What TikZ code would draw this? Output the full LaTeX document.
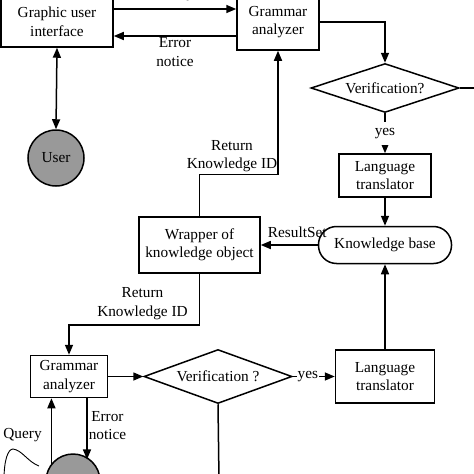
\documentclass[tikz,border=0pt]{standalone}
\usepackage{fontspec}
\setmainfont{Liberation Serif}
\usetikzlibrary{shapes.geometric, arrows.meta, positioning}

\begin{document}
\begin{tikzpicture}[
        x=1pt, y=-1pt, line width=1.5pt,
        arrow/.style={line width=1.5pt, -{Triangle[length=10pt,width=8pt]}}, % Arrow style
        twoway/.style={line width=1.5pt, {Triangle[length=10pt,width=8pt]}-{Triangle[length=10pt,width=8pt]}},
        every node/.style={font=\fontsize{15.3}{18.5}\selectfont, align=center, inner sep=0pt}, % Node style
        box/.style={rectangle, draw, fill=white},
        decision/.style={diamond, aspect=3, draw, fill=white, minimum width=148pt},
        store/.style={rectangle, rounded corners=18pt, draw, fill=white, minimum width=133pt, minimum height=37pt},
        person/.style={circle, draw, fill=gray!80}
    ]
        \useasboundingbox (0,0) rectangle (474,474);
        \clip (0,0) rectangle (474,474);

        % Top row
        \node (gui) [box, minimum width=112pt, minimum height=50pt] at (57,22) {Graphic user\\interface};
        \node (ga1) [box, minimum width=82pt, minimum height=56pt] at (278,22) {Grammar\\analyzer};
        \node (user1) [person, minimum size=56pt] at (56,158) {User};

        % Right column (downward)
        \node (check1) [decision, minimum height=49pt] at (385,88) {Verification?};
        \node (trans1) [box, below=40pt of check1, minimum width=92pt, minimum height=43pt] {Language\\translator};
        \node (kb) [store, below=28pt of trans1] {Knowledge base};
        \node (wrap) [box, left=57pt of kb, minimum width=121pt, minimum height=56pt] {Wrapper of\\knowledge object};

        % Bottom row
        \node (trans2) [box, below=85pt of kb, minimum width=99pt, minimum height=53pt] {Language\\translator};
        \node (check2) [decision, left=42pt of trans2, minimum height=54pt] {Verification ?};
        \node (ga2) [box, left=35pt of check2, minimum width=77pt, minimum height=42pt] {Grammar\\analyzer};
        \node (user2) [person, minimum size=54pt] at (73,481) {};

        \coordinate (exit1) at (480,88);
        \coordinate (exit2) at (219,480);

        % Connect the top row
        \draw [arrow] ([yshift=13pt]gui.east) -- ([yshift=13pt]gui.east -| ga1.west) node[midway, above=7pt] {Query};
        \draw [arrow] ([yshift=-14pt]ga1.west) -- ([yshift=-14pt]ga1.west -| gui.east) node[midway, below=1pt] {Error\\notice};
        \draw [twoway] (gui.south) -- (user1.north);

        % Connect the right column
        \draw [arrow] (ga1.east) -| (check1.north);
        \draw (check1.east) -- (exit1);
        \draw [arrow] (check1.south) -- node[fill=white, inner xsep=2pt, inner ysep=6pt] {yes} (trans1.north);
        \draw [arrow] (trans1.south) -- (kb.north);
        \draw [arrow] (kb.west) -- node[above=7pt, xshift=8pt] {ResultSet} (wrap.east);
        \draw [arrow] (wrap.north) -- ++(0,-42) -| node[pos=0.574, anchor=east] {Return\\Knowledge ID} (ga1.south);
        \draw [arrow] (wrap.south) -- node[pos=0.59, left=11pt] {Return\\Knowledge ID} ++(0,51) -| (ga2.north);

        % Connect the bottom row
        \draw [arrow] (ga2.east) -- (check2.west);
        \draw [arrow] (check2.east) -- node[pos=0.36, fill=white, inner xsep=1pt, inner ysep=3pt] {yes} (trans2.west);
        \draw [arrow] (trans2.north) -- (kb.south);
        \draw (check2.south) -- (exit2);
        \draw [arrow] (user2.141) -- (user2.141 |- ga2.south) node[pos=0.44, left=9pt] {Query};
        \draw [arrow] ([xshift=18pt]ga2.south) -- ([xshift=18pt]ga2.south |- user2.51) node[pos=0.45, right=1pt] {Error\\notice};

        % Figure outline at the bottom edge
        \draw [line width=0.9pt] (4,480) .. controls (4,460) and (8,449) .. (13,449) .. controls (22,450) and (28,462) .. (39,466);

    \end{tikzpicture}
\end{document}
